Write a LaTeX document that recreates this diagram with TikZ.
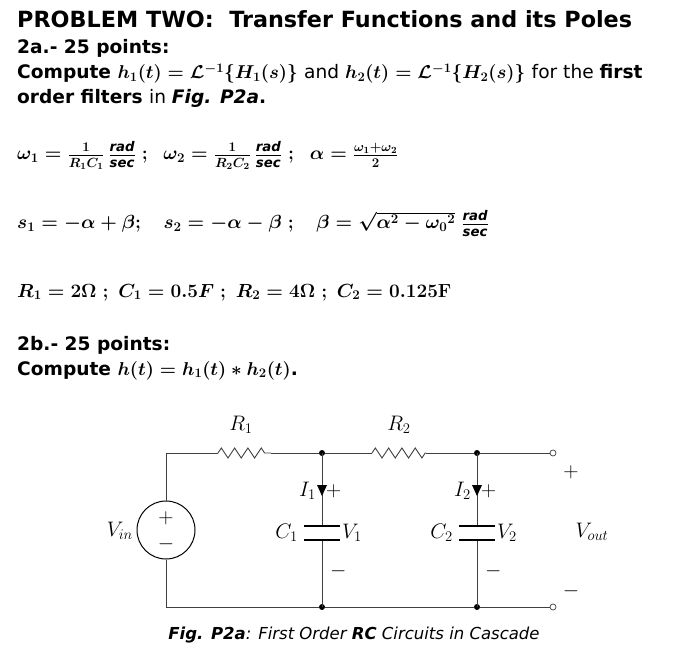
\RequirePackage{fix-cm}
\documentclass[tikz,border=0pt]{standalone}
\usepackage{amsmath,amssymb}
\usepackage{fontspec}
\setmainfont{DejaVu Sans}
\usetikzlibrary{arrows.meta,decorations.pathmorphing}
\begin{document}
\begin{tikzpicture}[x=1pt,y=-1pt,
  txt/.style={anchor=base west,inner sep=0pt,font=\fontsize{18.6}{22}\selectfont\bfseries},
  ttl/.style={anchor=base west,inner sep=0pt,font=\fontsize{22.3}{26}\selectfont\bfseries},
  eq/.style={anchor=base west,inner sep=0pt,font=\fontsize{19}{22}\selectfont\boldmath},
  cl/.style={inner sep=0pt,font=\fontsize{21}{24}\selectfont},
  wire/.style={draw=black!75,line width=0.9pt},
  res/.style={wire,decorate,decoration={zigzag,segment length=13.3pt,amplitude=5pt,pre length=0pt,post length=0pt}},
  dot/.style={circle,fill=black,inner sep=0pt,minimum size=6pt},
  term/.style={circle,draw=black!75,fill=white,inner sep=0pt,minimum size=6pt,line width=0.7pt}]
\useasboundingbox (0,0) rectangle (675,658);
\node[ttl] (t0) at (17,28) {PROBLEM TWO:\ \ Transfer Functions and its Poles};
\node[txt] (t1) at (17,54) {2a.- 25 points:};
\node[txt] (t2) at (17,79) {Compute $\boldsymbol{h_1(t)=\mathcal{L}^{-1}\{H_1(s)\}}$ \mdseries and \bfseries$\boldsymbol{h_2(t)=\mathcal{L}^{-1}\{H_2(s)\}}$ \mdseries for the \bfseries first};
\node[txt] (t3) at (17,104) {order filters \mdseries in \bfseries\itshape Fig. P2a\upshape.};
\node[eq] (e1) at (17,160) {$\omega_1=\frac{1}{R_1C_1}\,\frac{\mathit{rad}}{\mathit{sec}}\ ;\ \ \omega_2=\frac{1}{R_2C_2}\,\frac{\mathit{rad}}{\mathit{sec}}\ ;\ \ \alpha=\frac{\omega_1+\omega_2}{2}$};
\node[eq] (e2) at (17,229) {$s_1=-\alpha+\beta;\quad s_2=-\alpha-\beta\ ;\quad \beta=\sqrt{\alpha^2-{\omega_0}^2}\ \frac{\mathit{rad}}{\mathit{sec}}$};
\node[eq] (e3) at (17,297) {$R_1=2\Omega\ ;\ C_1=0.5F\ ;\ R_2=4\Omega\ ;\ C_2=0.125\mathbf{F}$};
\node[txt] (t4) at (17,350) {2b.- 25 points:};
\node[txt] (t5) at (17,375) {Compute $\boldsymbol{h(t)=h_1(t)*h_2(t)}$.};
\node[anchor=base,inner sep=0pt,font=\fontsize{16.5}{19}\selectfont\itshape] (cap) at (354,639) {\bfseries Fig. P2a\mdseries: First Order \bfseries RC\mdseries{} Circuits in Cascade};
% circuit
\coordinate (tl) at (166,453); \coordinate (bl) at (166,607);
\node[circle,draw=black,line width=1pt,minimum size=58pt,inner sep=0pt] (src) at (166,530) {};
\node[cl] at (166,518) {$+$}; \node[cl] at (166,544) {$-$};
\node[cl,anchor=east] (vin) at (133,531) {$V_{in}$};
\coordinate (r1a) at (218,453); \coordinate (r1b) at (271,453);
\node[dot] (n1) at (322,453) {}; \coordinate (r2a) at (372,453); \coordinate (r2b) at (426,453);
\node[dot] (n2) at (477,453) {}; \node[term] (o1) at (553,453) {};
\node[dot] (m1) at (322,607) {}; \node[dot] (m2) at (477,607) {}; \node[term] (o2) at (553,607) {};
\draw[wire] (src.north) -- (tl) -- (r1a);
\draw[res] (r1a) -- (r1b);
\draw[wire] (r1b) -- (n1) -- (r2a);
\draw[res] (r2a) -- (r2b);
\draw[wire] (r2b) -- (n2) -- (o1);
\draw[wire] (src.south) -- (bl) -- (m1) -- (m2) -- (o2);
\node[cl] at (241,425) {$R_1$}; \node[cl] at (399,425) {$R_2$};
\foreach \n/\x/\i in {1/322/1,2/477/2}{
  \draw[wire] (\x,453) -- (\x,526);
  \draw[wire] (\x,540) -- (\x,607);
  \draw[line width=1.2pt] (\x-18,526) -- (\x+18,526) (\x-18,540) -- (\x+18,540);
  \fill (\x-5,485) -- (\x+5,485) -- (\x,496) -- cycle;
  \node[cl,anchor=east] at (\x-6,491) {$I_\i$};
  \node[cl,anchor=west] at (\x+4,491) {$+$};
  \node[cl,anchor=east] at (\x-24,533) {$C_\i$};
  \node[cl,anchor=west] at (\x+20,533) {$V_\i$};
  \node[cl,anchor=west] at (\x+8,571) {$-$};
}
\node[cl] at (571,472) {$+$}; \node[cl] at (571,591) {$-$};
\node[cl] at (592,532) {$V_{out}$};
\end{tikzpicture}
\end{document}
